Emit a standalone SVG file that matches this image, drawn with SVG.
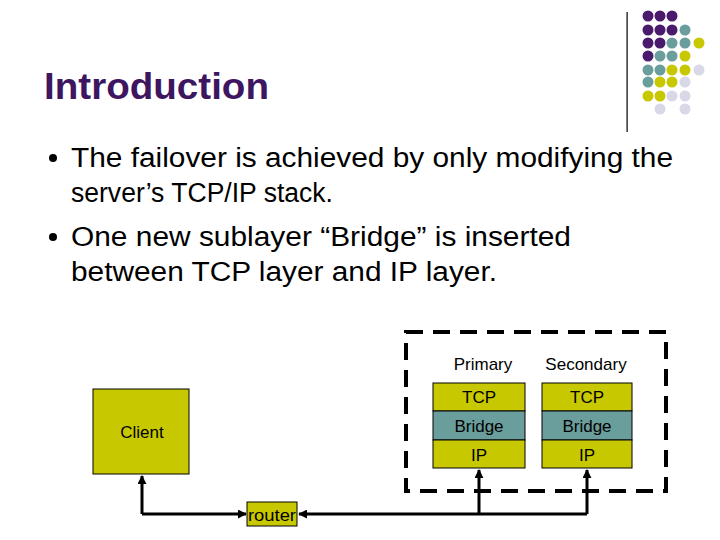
<svg xmlns="http://www.w3.org/2000/svg" width="720" height="540" viewBox="0 0 720 540">
<defs>
<style>
.t{font-family:"Liberation Sans",Arial,sans-serif;fill:#000}
.p{fill:#4a1a6c}.g{fill:#6a9e9c}.y{fill:#c8c800}.l{fill:#d8d8e8}
.box{stroke:#000;stroke-width:1}
.ln{stroke:#000;stroke-width:3;fill:none}
</style>
<marker id="a" viewBox="0 0 10 10" refX="9" refY="5" markerWidth="3" markerHeight="3" orient="auto"><path d="M0,0L10,5L0,10z" fill="#000"/></marker>
</defs>
<rect width="720" height="540" fill="#fff"/>
<g id="deco">
<rect x="626.5" y="12" width="1.2" height="120" fill="#000"/>
<g>
<circle class="p" cx="648" cy="16" r="5.5"/><circle class="p" cx="660" cy="16" r="5.5"/><circle class="p" cx="672" cy="16" r="5.5"/>
<circle class="p" cx="648" cy="30" r="5.5"/><circle class="p" cx="660" cy="30" r="5.5"/><circle class="p" cx="672" cy="30" r="5.5"/><circle class="g" cx="685" cy="30" r="5.5"/>
<circle class="p" cx="648" cy="43" r="5.5"/><circle class="p" cx="660" cy="43" r="5.5"/><circle class="g" cx="672" cy="43" r="5.5"/><circle class="g" cx="685" cy="43" r="5.5"/><circle class="y" cx="699" cy="43" r="5.5"/>
<circle class="p" cx="648" cy="56" r="5.5"/><circle class="g" cx="660" cy="56" r="5.5"/><circle class="g" cx="672" cy="56" r="5.5"/><circle class="y" cx="685" cy="56" r="5.5"/>
<circle class="g" cx="648" cy="70" r="5.5"/><circle class="g" cx="660" cy="70" r="5.5"/><circle class="y" cx="672" cy="70" r="5.5"/><circle class="y" cx="685" cy="70" r="5.5"/><circle class="l" cx="699" cy="70" r="5.5"/>
<circle class="g" cx="648" cy="82" r="5.5"/><circle class="y" cx="660" cy="82" r="5.5"/><circle class="y" cx="672" cy="82" r="5.5"/><circle class="l" cx="685" cy="82" r="5.5"/>
<circle class="y" cx="648" cy="96" r="5.5"/><circle class="y" cx="660" cy="96" r="5.5"/><circle class="l" cx="672" cy="96" r="5.5"/><circle class="l" cx="685" cy="96" r="5.5"/>
<circle class="l" cx="660" cy="109" r="5.5"/><circle class="l" cx="685" cy="109" r="5.5"/>
</g>
</g>
<text x="44" y="99" font-family="Liberation Sans,Arial,sans-serif" font-size="36" font-weight="bold" fill="#3d1560" textLength="225" lengthAdjust="spacingAndGlyphs">Introduction</text>
<g id="bullets" class="t" font-size="27">
<circle cx="53" cy="158" r="4"/><circle cx="53" cy="237" r="4"/>
<text x="71" y="167" textLength="602" lengthAdjust="spacingAndGlyphs">The failover is achieved by only modifying the</text>
<text x="71" y="202" textLength="262" lengthAdjust="spacingAndGlyphs">server’s TCP/IP stack.</text>
<text x="71" y="246" textLength="500" lengthAdjust="spacingAndGlyphs">One new sublayer “Bridge” is inserted</text>
<text x="71" y="281" textLength="426" lengthAdjust="spacingAndGlyphs">between TCP layer and IP layer.</text>
</g>
<rect x="406" y="332" width="260" height="159" fill="none" stroke="#000" stroke-width="4" stroke-dasharray="17,10"/>
<g id="primary" class="t" font-size="17" text-anchor="middle">
<text x="483" y="370">Primary</text>
<rect class="box y" x="433" y="383" width="92" height="28"/>
<rect class="box g" x="433" y="411" width="92" height="29"/>
<rect class="box y" x="433" y="440" width="92" height="28"/>
<text x="479" y="403">TCP</text><text x="479" y="432">Bridge</text><text x="479" y="461">IP</text>
</g>
<g id="secondary" class="t" font-size="17" text-anchor="middle">
<text x="586" y="370">Secondary</text>
<rect class="box y" x="542" y="383" width="90" height="28"/>
<rect class="box g" x="542" y="411" width="90" height="29"/>
<rect class="box y" x="542" y="440" width="90" height="28"/>
<text x="587" y="403">TCP</text><text x="587" y="432">Bridge</text><text x="587" y="461">IP</text>
</g>
<g id="client" class="t" font-size="17" text-anchor="middle">
<rect class="box y" x="93" y="389" width="96" height="85"/>
<text x="142" y="438">Client</text>
</g>
<g id="router" class="t" font-size="17" text-anchor="middle">
<rect class="box y" x="247" y="502" width="50" height="24"/>
<text x="272" y="521" textLength="48" lengthAdjust="spacingAndGlyphs">router</text>
</g>
<g id="connectors">
<path class="ln" d="M142,514V476" marker-end="url(#a)"/>
<path class="ln" d="M142,514H246" marker-end="url(#a)"/>
<path class="ln" d="M587,514H299" marker-end="url(#a)"/>
<path class="ln" d="M479,514V470" marker-end="url(#a)"/>
<path class="ln" d="M587,514V470" marker-end="url(#a)"/>
</g>
</svg>
